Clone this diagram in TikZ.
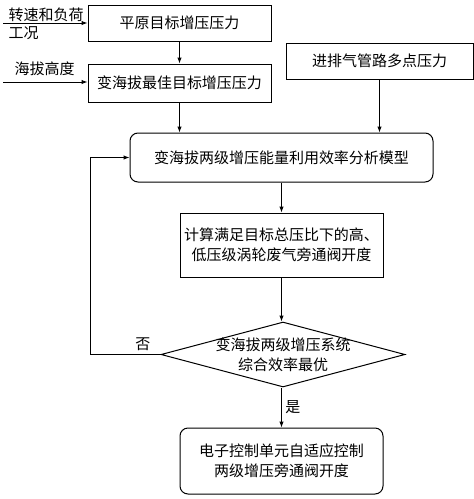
\documentclass[tikz,border=0pt]{standalone}
\usepackage{fontspec}
\setmainfont{Noto Sans CJK SC}
\usetikzlibrary{positioning,arrows.meta,shapes.geometric}

\tikzset{
  box/.style={draw, line width=1pt, align=center, inner sep=1pt},
  roundbox/.style={box, rounded corners=8pt},
  decision/.style={draw, line width=1pt, diamond, inner sep=0pt},
  flow/.style={line width=1pt, -{Latex[length=6pt,width=4.5pt]}},
}

\begin{document}
\begin{tikzpicture}[x=1pt,y=-1pt,font=\fontsize{15}{19.5}\selectfont]
    \useasboundingbox (0,0) rectangle (474,499);
    % upper boxes
    \node[box, minimum width=183pt, minimum height=36pt] (plain) at (179.5,23) {平原目标增压压力};
    \node[box, minimum width=183pt, minimum height=38pt] (best) at (179.5,83) {变海拔最佳目标增压压力};
    \node[box, minimum width=187pt, minimum height=36pt] (multi) at (379.5,61) {进排气管路多点压力};
    % inputs
    \coordinate (in1) at (3,23);
    \coordinate (in2) at (3,82);
    \node[anchor=west, align=left, font=\fontsize{15}{18}\selectfont] (cond) at (5,24) {转速和负荷\\工况};
    \node[anchor=west] (alt) at (11,69) {海拔高度};
    % model and calculation
    \node[roundbox, minimum width=303pt, minimum height=49pt] (model) at (281.5,157.5) {变海拔两级增压能量利用效率分析模型};
    \node[box, minimum width=203pt, minimum height=64pt] (calc) at (281.5,245) {计算满足目标总压比下的高、\\低压级涡轮废气旁通阀开度};
    % decision
    \node[decision, minimum width=244pt, minimum height=65pt] (judge) at (283,354.5) {};
    \node[align=center] (judgetext) at (judge.center) {变海拔两级增压系统\\综合效率最优};
    \node[roundbox, minimum width=203pt, minimum height=66pt] (final) at (281.5,461) {电子控制单元自适应控制\\两级增压旁通阀开度};
    \coordinate (loop) at (90,354.5);

    \draw[flow] (in1) -- (in1 -| plain.west);
    \draw[flow] (in2) -- (in2 -| best.west);
    \draw[flow] (plain) -- (best);
    \draw[flow] (best.south) -- (best.south |- model.north);
    \draw[flow] (multi.south) -- (multi.south |- model.north);
    \draw[flow] (model) -- (calc);
    \draw[flow] (calc.south) -- (calc.south |- judge.north);
    \draw[flow] (judge.south -| final.north) -- node[right] {是} (final.north);
    \draw[flow] (judge.west) -- node[above, pos=0.25] {否} (loop) |- (model.west);
\end{tikzpicture}
\end{document}
